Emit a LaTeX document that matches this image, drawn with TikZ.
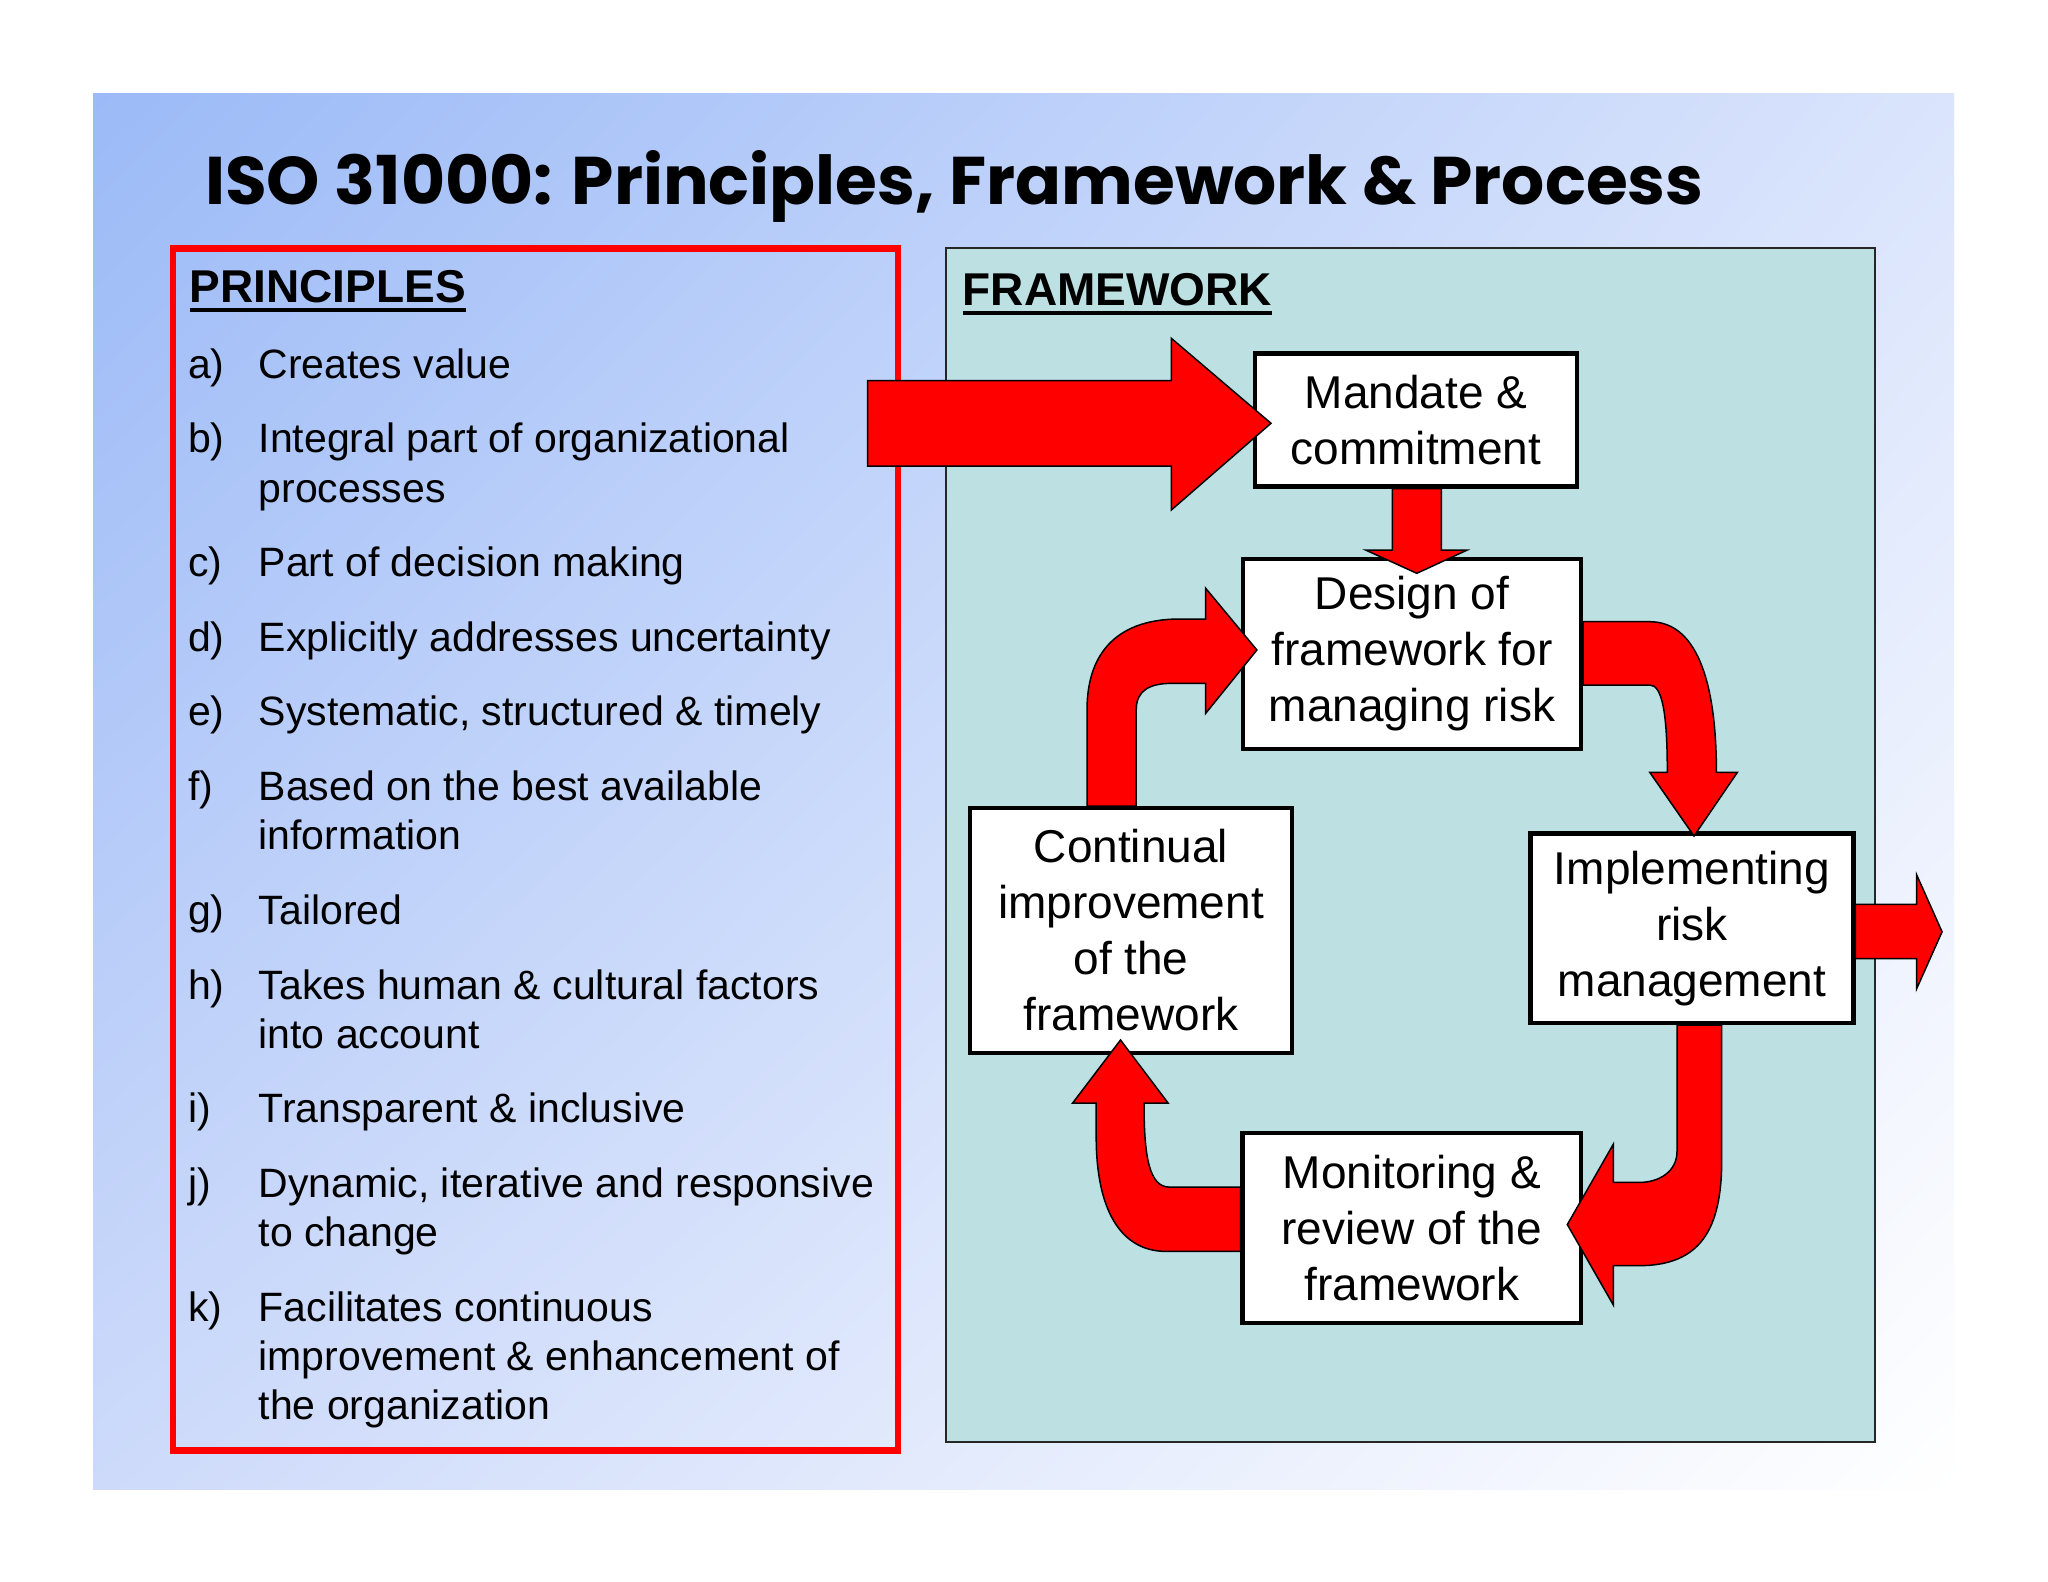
\documentclass[tikz,border=0pt]{standalone}
\usepackage{fontspec}
\usepackage{graphicx}
\usetikzlibrary{shadings}
\setmainfont{Liberation Sans}
\newfontfamily\titlefont{Poppins}
\definecolor{slidetl}{RGB}{155,186,247}
\definecolor{slidetr}{RGB}{218,228,252}
\definecolor{slidebl}{RGB}{205,218,250}
\definecolor{fwteal}{RGB}{189,224,226}

\begin{document}
\begin{tikzpicture}[
      x=1pt, y=-1pt,
      stage/.style={
         rectangle,
         draw=black,
         line width=4.5pt,
         fill=white,
         align=center,
         inner sep=0pt,
         outer sep=0pt,
         font=\fontsize{46}{56}\selectfont
      },
      itemtag/.style={anchor=base west, inner sep=0pt, font=\fontsize{41}{49.25}\selectfont},
      itemtext/.style={anchor=base west, inner sep=0pt, align=left, font=\fontsize{41}{49.25}\selectfont},
      header/.style={anchor=base west, inner sep=0pt, font=\fontsize{46}{55}\selectfont\bfseries},
      headrule/.style={line width=4pt},
      blockarrow/.style={fill=red, draw=black, line width=1.5pt, line join=miter}
    ]
  \useasboundingbox (0,0) rectangle (2048,1582);
  \fill[white] (0,0) rectangle (2048,1582);
  \shade[upper left=slidetl, upper right=slidetr, lower left=slidebl, lower right=white]
     (93,93) rectangle (1954,1489);

  \node (title) [anchor=base west, inner sep=0pt] at (205,204)
     {\resizebox{1498pt}{54pt}{\titlefont\bfseries ISO 31000: Principles, Framework \& Process}};

  % principles (multi-line items sit on the baseline of their last line)
  \node (principles) [draw=red, line width=6.5pt, minimum width=725pt, minimum height=1202pt, inner sep=0pt] at (535.5,849.5) {};
  \node (prinhead) [header] at (189.5,302.3) {PRINCIPLES};
  \draw[headrule] ([yshift=-8pt]prinhead.base west) -- ([yshift=-8pt]prinhead.base east);

  \node (taga) [itemtag] at (188,378.3) {a)};
  \node (itema) [itemtext] at (258.5,378.3) {Creates value};
  \node (tagb) [itemtag] at (188,452.9) {b)};
  \node (itemb) [itemtext] at (258.5,502.15) {Integral part of organizational\\processes};
  \node (tagc) [itemtag] at (188,576.75) {c)};
  \node (itemc) [itemtext] at (258.5,576.75) {Part of decision making};
  \node (tagd) [itemtag] at (188,651.35) {d)};
  \node (itemd) [itemtext] at (258.5,651.35) {Explicitly addresses uncertainty};
  \node (tage) [itemtag] at (188,725.95) {e)};
  \node (iteme) [itemtext] at (258.5,725.95) {Systematic, structured \& timely};
  \node (tagf) [itemtag] at (188,800.55) {f)};
  \node (itemf) [itemtext] at (258.5,849.8) {Based on the best available\\information};
  \node (tagg) [itemtag] at (188,924.4) {g)};
  \node (itemg) [itemtext] at (258.5,924.4) {Tailored};
  \node (tagh) [itemtag] at (188,999) {h)};
  \node (itemh) [itemtext] at (258.5,1048.25) {Takes human \& cultural factors\\into account};
  \node (tagi) [itemtag] at (188,1122.85) {i)};
  \node (itemi) [itemtext] at (258.5,1122.85) {Transparent \& inclusive};
  \node (tagj) [itemtag] at (188,1197.45) {j)};
  \node (itemj) [itemtext] at (258.5,1246.7) {Dynamic, iterative and responsive\\to change};
  \node (tagk) [itemtag] at (188,1321.3) {k)};
  \node (itemk) [itemtext] at (258.5,1419.8) {Facilitates continuous\\improvement \& enhancement of\\the organization};

  % framework
  \node (framework) [fill=fwteal, draw=black!85, line width=2pt, minimum width=929pt, minimum height=1193.4pt, inner sep=0pt] at (1410.5,845) {};
  \node (fwhead) [header] at (962.5,305) {FRAMEWORK};
  \draw[headrule] ([yshift=-8.3pt]fwhead.base west) -- ([yshift=-8.3pt]fwhead.base east);

  \node (mandate) [stage, minimum width=322pt, minimum height=133pt] at (1416,420) {Mandate \&\\commitment};
  \node (design) [stage, minimum width=338pt, minimum height=190pt] at (1412,654) {Design of\\framework for\\managing risk};
  \node (improve) [stage, minimum width=322pt, minimum height=244.8pt] at (1131,930.4) {Continual\\improvement\\of the\\framework};
  \node (implement) [stage, minimum width=322.7pt, minimum height=189.9pt] at (1692,928.2) {Implementing\\risk\\management};
  \node (monitor) [stage, minimum width=338.6pt, minimum height=190.2pt] at (1411.8,1228) {Monitoring \&\\review of the\\framework};

  % block arrows
  \draw[blockarrow, shift={(mandate.west)}]
     (-387.5,-39.3) -- (-83.7,-39.3) -- (-83.7,-81.7) -- (16,3.3) -- (-83.7,90) -- (-83.7,46) -- (-387.5,46) -- cycle;
  \draw[blockarrow, shift={(mandate.south)}]
     (-23.7,2) -- (25.4,2) -- (25.4,63.5) -- (51.3,63.5) -- (0.8,86.8) -- (-50.4,63.5) -- (-23.7,63.5) -- cycle;
  \draw[blockarrow, shift={(design.east)}]
     (2,-32.3) -- (68.7,-32.3) .. controls (119,-32.3) and (135.4,36) .. (135.4,118.3)
     -- (156.4,118.3) -- (113,182) -- (68.7,118.3) -- (86.3,118.3)
     .. controls (86.3,58) and (81,31) .. (68.7,31) -- (2,31) -- cycle;
  \draw[blockarrow, shift={(implement.south)}]
     (-15,2) -- (-15,128.2) .. controls (-15,147.8) and (-32,159.3) .. (-53.2,159.3)
     -- (-78.7,159.3) -- (-78.7,121.1) -- (-124.7,201.4) -- (-78.7,281.8) -- (-78.7,242.5) -- (-53.2,242.5)
     .. controls (8,242.5) and (29.7,206.8) .. (29.7,136.8) -- (29.7,2) -- cycle;
  \draw[blockarrow, shift={(monitor.west)}]
     (-2,-40.9) -- (-73,-40.9) .. controls (-93,-40.9) and (-98.5,-70) .. (-98.5,-124.8)
     -- (-74.3,-124.8) -- (-122,-188) -- (-170,-124.8) -- (-146.3,-124.8) -- (-146.3,-91)
     .. controls (-146.3,-20) and (-123,23.4) .. (-76.2,23.4) -- (-2,23.4) -- cycle;
  \draw[blockarrow, shift={(improve.north)}]
     (-44,-2) -- (-44,-98) .. controls (-44,-158) and (-11,-189) .. (48.7,-189)
     -- (74.7,-189) -- (74.7,-219.7) -- (125.9,-158) -- (74.7,-94.7) -- (74.7,-124.7) -- (41.7,-124.7)
     .. controls (19,-124.7) and (5.2,-118) .. (5.2,-98) -- (5.2,-2) -- cycle;
  \draw[blockarrow, shift={(implement.east)}]
     (2,-23.9) -- (63.2,-23.9) -- (63.2,-53.6) -- (88.7,3.6) -- (63.2,60.7) -- (63.2,30.4) -- (2,30.4) -- cycle;
\end{tikzpicture}
\end{document}
